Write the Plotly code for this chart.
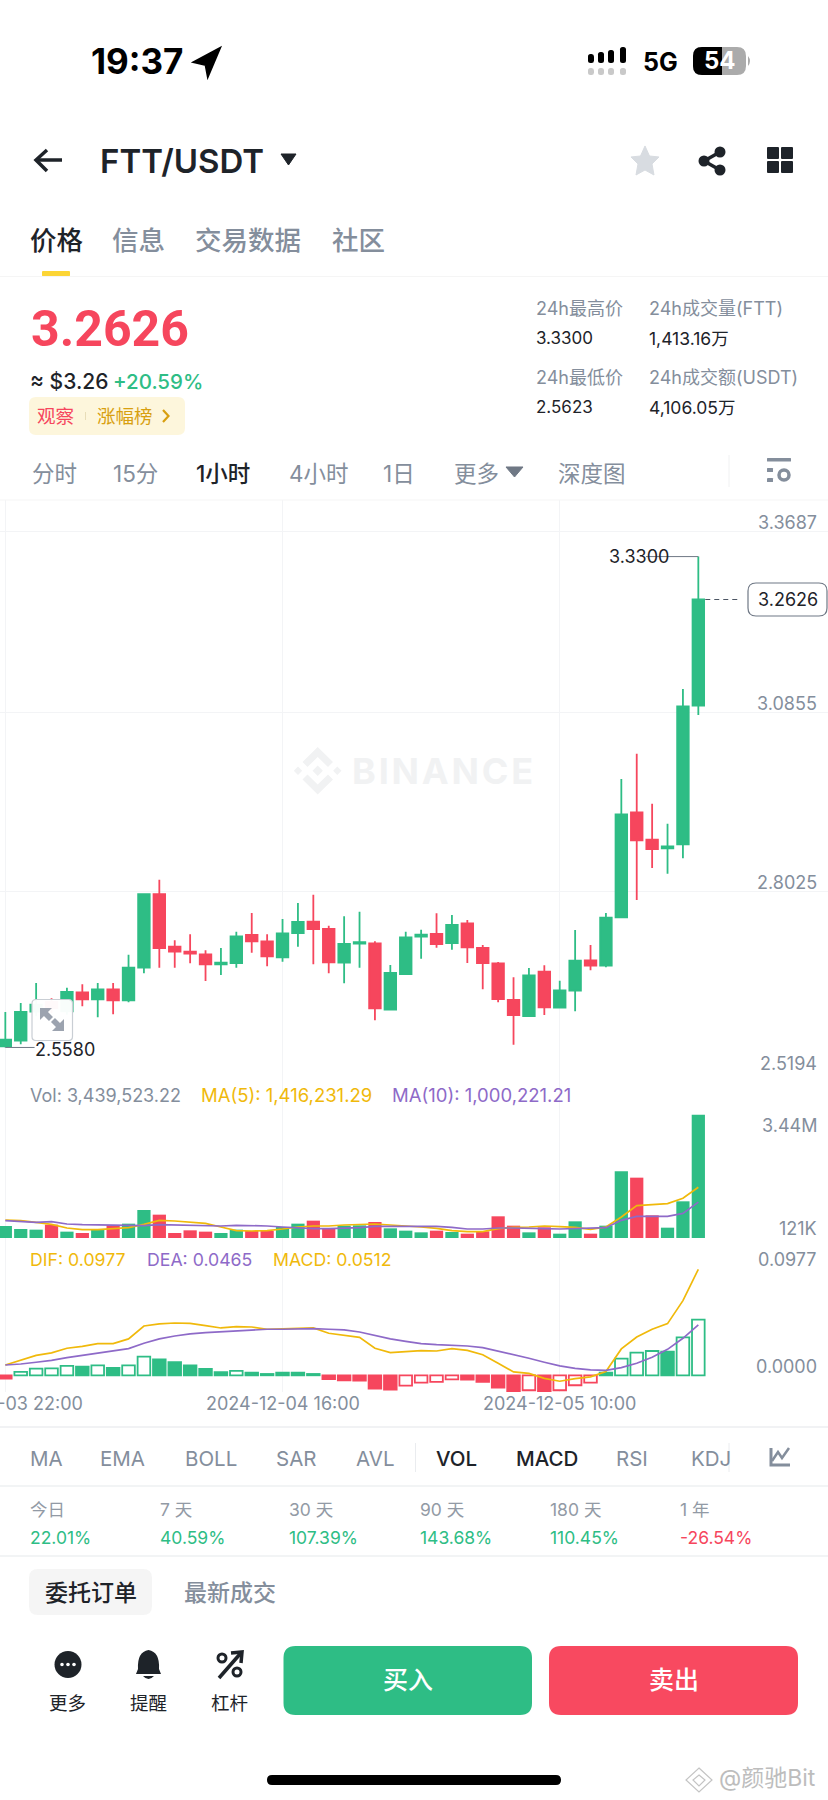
import re
import plotly.graph_objects as go

# ---------- data ----------
opens = [2.5598,2.5687,2.6143,2.6295,2.6148,2.6447,2.6337,2.6494,2.6321,2.6835,2.7993,2.7165,2.7086,2.7045,2.6887,2.6908,2.7349,2.7249,2.6997,2.7380,2.7558,2.7443,2.6913,2.7212,2.7218,2.6174,2.6735,2.7322,2.7364,2.7223,2.7532,2.7144,2.6903,2.6326,2.6075,2.6772,2.6206,2.6473,2.6950,2.6866,2.7626,2.9278,2.8848,2.8712,2.8775,3.0956]
closes = [2.5702,2.6138,2.6253,2.6200,2.6452,2.6337,2.6494,2.6321,2.6835,2.7993,2.7144,2.7086,2.7055,2.6887,2.6913,2.7328,2.7249,2.7013,2.7375,2.7553,2.7443,2.6919,2.7207,2.7238,2.6195,2.6751,2.7312,2.7354,2.7207,2.7506,2.7155,2.6908,2.6342,2.6090,2.6714,2.6211,2.6478,2.6945,2.6866,2.7621,2.9246,2.8838,2.8701,2.8743,3.0945,3.2626]
highs = [2.6138,2.6279,2.6594,2.6352,2.6520,2.6573,2.6594,2.6594,2.7039,2.7993,2.8219,2.7265,2.7359,2.7107,2.7144,2.7401,2.7695,2.7359,2.7600,2.7852,2.7983,2.7495,2.7642,2.7716,2.7249,2.6877,2.7401,2.7432,2.7689,2.7663,2.7585,2.7191,2.6924,2.6683,2.6830,2.6872,2.6630,2.7427,2.7191,2.7695,2.9802,3.0201,2.9414,2.9100,3.1218,3.3300]
lows = [2.5580,2.5629,2.6069,2.6122,2.6096,2.6227,2.6054,2.6101,2.6290,2.6746,2.6835,2.6835,2.6903,2.6625,2.6719,2.6835,2.7071,2.6856,2.6929,2.7165,2.6887,2.6746,2.6588,2.6835,2.6006,2.6169,2.6725,2.6976,2.7149,2.7118,2.6908,2.6494,2.6290,2.5623,2.6069,2.6090,2.6206,2.6148,2.6793,2.6840,2.7626,2.7899,2.8402,2.8313,2.8554,3.0809]
volumes = [.335,.251,.233,.372,.177,.140,.233,.353,.400,.781,.651,.140,.214,.177,.140,.233,.195,.195,.307,.400,.484,.251,.344,.353,.446,.270,.205,.158,.205,.167,.121,.186,.605,.344,.158,.298,.121,.465,.121,.344,1.860,1.683,.632,.288,1.023,3.44]
vol_ma5 = [.502,.484,.437,.381,.279,.233,.233,.260,.288,.381,.493,.474,.446,.409,.307,.205,.195,.205,.251,.307,.335,.335,.363,.372,.391,.363,.344,.307,.270,.205,.177,.177,.260,.298,.307,.335,.316,.298,.242,.307,.586,.902,.930,.958,1.107,1.416]
vol_ma10 = [.484,.465,.437,.456,.391,.372,.363,.353,.344,.344,.372,.363,.353,.335,.335,.353,.353,.335,.307,.279,.260,.260,.270,.288,.326,.335,.326,.326,.326,.298,.251,.251,.279,.279,.260,.260,.251,.270,.270,.288,.493,.605,.605,.605,.688,1.000]
macd_hist = [-.0031,.0031,.0061,.0064,.0086,.0080,.0092,.0068,.0092,.0172,.0147,.0120,.0092,.0058,.0028,.0040,.0025,.0012,.0025,.0025,.0012,-.0034,-.0046,-.0049,-.0123,-.0132,-.0095,-.0068,-.0061,-.0037,-.0040,-.0061,-.0114,-.0154,-.0138,-.0154,-.0138,-.0092,-.0068,.0025,.0154,.0209,.0224,.0218,.0350,.0512]
macd_hollow = [0,1,1,1,1,0,1,0,1,1,0,0,0,0,0,1,0,0,0,0,0,0,0,0,0,0,1,1,1,1,0,0,0,0,1,0,1,1,1,0,1,1,1,0,1,1]
dif = [.0095,.0138,.0184,.0206,.0249,.0267,.0292,.0292,.0335,.0454,.0473,.0482,.0479,.0457,.0436,.0448,.0445,.0424,.0427,.0436,.0436,.0387,.0368,.0350,.0249,.0209,.0218,.0227,.0224,.0246,.0230,.0190,.0111,.0031,.0018,-.0028,-.0055,-.0031,-.0015,.0034,.0243,.0353,.0424,.0476,.0688,.0977]
dea = [.0095,.0104,.0120,.0138,.0163,.0184,.0203,.0221,.0246,.0295,.0335,.0362,.0381,.0393,.0402,.0411,.0418,.0424,.0424,.0427,.0430,.0424,.0418,.0399,.0368,.0335,.0313,.0292,.0282,.0276,.0270,.0255,.0224,.0190,.0157,.0120,.0086,.0064,.0049,.0046,.0071,.0111,.0166,.0239,.0341,.0465]
price_ticks = [2.5194, 2.8025, 3.0855, 3.3687]
price_tick_labels = ["2.5194", "2.8025", "3.0855", "3.3687"]
time_ticks = [0, 18, 36]
time_labels = ["2024-12-03 22:00", "2024-12-04 16:00", "2024-12-05 10:00"]

GREEN, RED, GOLD, PURPLE = "#2EBD85", "#F6465D", "#F0B90B", "#8E6AC8"
DARK, GRAY, GRID = "#1E2329", "#848E9C", "#F3F4F6"
FONT = "Inter, Noto Sans CJK SC, sans-serif"
W, H = 828, 1800
xs = list(range(len(closes)))
bar_colors = [GREEN if c >= o else RED for o, c in zip(opens, closes)]
hist_edge = [GREEN if v >= 0 else RED for v in macd_hist]
hist_fill = ["#FFFFFF" if h else e for h, e in zip(macd_hollow, hist_edge)]

fig = go.Figure()
fig.add_trace(go.Candlestick(x=xs, open=opens, high=highs, low=lows, close=closes,
    increasing=dict(line=dict(color=GREEN, width=1.8), fillcolor=GREEN),
    decreasing=dict(line=dict(color=RED, width=1.8), fillcolor=RED),
    whiskerwidth=0, xaxis="x", yaxis="y", hoverinfo="skip"))
fig.add_trace(go.Bar(x=xs, y=volumes, width=0.86, marker=dict(color=bar_colors, line_width=0), xaxis="x2", yaxis="y2", hoverinfo="skip"))
fig.add_trace(go.Scatter(x=xs, y=vol_ma5, mode="lines", line=dict(color=GOLD, width=1.7), xaxis="x2", yaxis="y2", hoverinfo="skip"))
fig.add_trace(go.Scatter(x=xs, y=vol_ma10, mode="lines", line=dict(color=PURPLE, width=1.7), xaxis="x2", yaxis="y2", hoverinfo="skip"))
fig.add_trace(go.Bar(x=xs, y=macd_hist, width=0.82, marker=dict(color=hist_fill, line=dict(color=hist_edge, width=1.8)), xaxis="x3", yaxis="y3", hoverinfo="skip"))
fig.add_trace(go.Scatter(x=xs, y=dif, mode="lines", line=dict(color=GOLD, width=1.7), xaxis="x3", yaxis="y3", hoverinfo="skip"))
fig.add_trace(go.Scatter(x=xs, y=dea, mode="lines", line=dict(color=PURPLE, width=1.7), xaxis="x3", yaxis="y3", hoverinfo="skip"))

def dom(top, bottom):
    return [1 - bottom / H, 1 - top / H]

xrange_ = [-0.346, 53.42]
xbase = dict(range=xrange_, tickvals=time_ticks, showgrid=True, gridcolor=GRID, gridwidth=1,
             zeroline=False, showline=False, fixedrange=True, domain=[0, 1])
ann, shp = [], []

def T(x, y, s, size=18, color=DARK, anchor="left", weight=400, family=FONT):
    if anchor == "left":
        x -= 1.5
    ann.append(dict(x=x / W, y=1 - y / H, xref="paper", yref="paper", text=s, showarrow=False,
                    xanchor=anchor, yanchor="middle", borderpad=0,
                    font=dict(family=family, size=size, color=color, weight=weight)))

def P(s, fill=None, line=None, width=0):
    toks = re.findall(r"[MLQCZ]|-?[\d.]+", s)
    out, i = [], 0
    for t in toks:
        if t in "MLQCZ":
            out.append(t)
        else:
            v = float(t)
            out.append(f"{v / W:.6f}" if i % 2 == 0 else f"{1 - v / H:.6f}")
            i += 1
    d = dict(type="path", xref="paper", yref="paper", path=" ".join(out),
             line=dict(width=width, color=line or "rgba(0,0,0,0)"))
    if fill:
        d["fillcolor"] = fill
    shp.append(d)

def RR(x0, y0, x1, y1, r, fill=None, line=None, width=0):
    P(f"M{x0+r} {y0} L{x1-r} {y0} Q{x1} {y0} {x1} {y0+r} L{x1} {y1-r} Q{x1} {y1} {x1-r} {y1} "
      f"L{x0+r} {y1} Q{x0} {y1} {x0} {y1-r} L{x0} {y0+r} Q{x0} {y0} {x0+r} {y0} Z", fill, line, width)

def C(cx, cy, r, fill=None, line=None, width=0):
    d = dict(type="circle", xref="paper", yref="paper", x0=(cx - r) / W, x1=(cx + r) / W,
             y0=1 - (cy + r) / H, y1=1 - (cy - r) / H,
             line=dict(width=width, color=line or "rgba(0,0,0,0)"))
    if fill:
        d["fillcolor"] = fill
    shp.append(d)

def HL(y, color="#EEF0F2", w=1, x0=0, x1=W):
    P(f"M{x0} {y} L{x1} {y}", None, color, w)

# ---------- status bar ----------
T(91, 61, "19:37", 35, "#000000", weight=700)
P("M219 49 L195 62 L206 64.5 L208 75 Z", "#000000", "#000000", 3)
for bx, top in zip([588, 598, 608, 620], [54, 52, 50, 47]):
    RR(bx, top, bx + 6, 63, 2.5, "#000000")
    RR(bx, 68, bx + 6, 75, 2.5, "#C9C9C9")
T(643, 62, "5G", 25, "#000000", weight=700)
RR(693, 47, 746, 75, 9, "#ABABAB")
P("M702 47 L722 47 L722 75 L702 75 Q693 75 693 66 L693 56 Q693 47 702 47 Z", "#000000")
P("M748 56 Q752 61 748 66 Z", "#ABABAB")
T(720, 61, "54", 24, "#FFFFFF", "center", 700)

# ---------- header ----------
P("M62 160 L37 160", None, DARK, 3.5)
P("M47 150 L36 160 L47 171", None, DARK, 3.5)
T(100, 161, "FTT/USDT", 33, DARK, weight=600)
P("M281 154 L296 154 L288.5 165 Z", DARK, DARK, 1)
P("M645 146 L649.5 156 L659 157 L652 164 L654 175 L645 170 L636 175 L638 164 L631 157 L640.5 156 Z", "#D8DCE1", "#D8DCE1", 1)
P("M704 161 L720 152 M704 161 L720 170", None, DARK, 3.5)
for cx, cy in [(704, 161), (720, 152), (720, 170)]:
    C(cx, cy, 5.5, DARK)
for x0, y0 in [(767, 147), (781, 147), (767, 161), (781, 161)]:
    RR(x0, y0, x0 + 12, y0 + 12, 1, DARK)
for x, s, col in [(30, "价格", DARK), (112, "信息", GRAY), (195, "交易数据", GRAY), (332, "社区", GRAY)]:
    T(x, 240, s, 26.5, col, weight=500)
RR(42, 271, 70, 276, 0.5, "#FCD535")
HL(276.5, "#F5F5F5")

# ---------- price block ----------
T(31, 329, "3.2626", 50, RED, weight=700, family="Roboto, sans-serif")
T(30, 381, "≈ $3.26", 21, DARK, weight=500)
T(113, 381, "+20.59%", 20.5, GREEN, weight=500)
RR(29, 397, 185, 435, 7, "#FDF6DC")
T(37, 416, "观察", 18.5, RED)
P("M85.5 412 L85.5 420", None, "#E8DDB8", 1)
T(97, 416, "涨幅榜", 18.5, "#D89F0F")
P("M163 410 L168.5 416 L163 422", None, "#D89F0F", 2.2)
for x, y, s, col, fs in [(536, 308, "24h最高价", GRAY, 18), (649, 308, "24h成交量(FTT)", GRAY, 18),
                         (536, 338, "3.3300", DARK, 17), (649, 338, "1,413.16万", DARK, 17.5),
                         (536, 377, "24h最低价", GRAY, 18), (649, 377, "24h成交额(USDT)", GRAY, 18),
                         (536, 407, "2.5623", DARK, 17), (649, 407, "4,106.05万", DARK, 17.5)]:
    T(x, y, s, fs, col)
for x, s, col, wt in [(32, "分时", GRAY, 400), (113, "15分", GRAY, 400), (196, "1小时", DARK, 500), (289, "4小时", GRAY, 400),
                      (383, "1日", GRAY, 400), (454, "更多", GRAY, 400), (558, "深度图", GRAY, 400)]:
    T(x, 473, s, 22.5, col, weight=wt)
P("M506 467 L523 467 L514.5 477 Z", "#6F7885", "#6F7885", 1)
P("M729 455 L729 487", None, "#F0F1F2", 1)
RR(767, 458, 791, 461.5, 0.5, GRAY)
RR(767, 468, 773, 472, 0.5, GRAY)
RR(767, 478, 773, 482, 0.5, GRAY)
C(784, 475, 5, None, GRAY, 3.5)
HL(500, "#F5F5F5")

# ---------- watermark ----------
wm = "#F1F2F3"
P("M317.7 747 L333 762 L328 767 L317.7 757 L307.5 767 L302.5 762 Z", wm)
P("M317.7 794.4 L333 779.4 L328 774.4 L317.7 784.4 L307.5 774.4 L302.5 779.4 Z", wm)
for cx, r in [(298, 4.2), (317.7, 5.2), (337.3, 4.2)]:
    P(f"M{cx} {770.7-r} L{cx+r} 770.7 L{cx} {770.7+r} L{cx-r} 770.7 Z", wm)
T(352, 770.5, "B I N A N C E".replace(" ", "\u200a"), 36, wm, weight=700)

# ---------- chart overlays ----------
shp.append(dict(type="line", xref="x", yref="y", x0=41.6, x1=45, y0=highs[-1], y1=highs[-1], line=dict(color="#6F7885", width=1)))
shp.append(dict(type="line", xref="x", yref="y", x0=45.45, x1=47.7, y0=closes[-1], y1=closes[-1], line=dict(color="#4B5563", width=1.1, dash="5px,4px")))
shp.append(dict(type="line", xref="x", yref="y", x0=0, x1=1.9, y0=lows[0], y1=lows[0], line=dict(color="#6F7885", width=1)))
T(609, 557, "3.3300", 18, DARK)
T(35, 1049, "2.5580", 18, DARK)
RR(748, 583, 827, 616, 8, "#FFFFFF", "#6F7885", 1.2)
T(787.5, 600, "3.2626", 18, DARK, "center")
RR(32, 999.5, 72.5, 1040.5, 4, "rgba(255,255,255,0.97)", "#C9CED4", 1.2)
P("M40 1008 L52 1008 L48 1012 L53 1017 L49 1021 L44 1016 L40 1020 Z", "#9CA3AF")
P("M64 1031 L52 1031 L56 1027 L51 1022 L55 1018 L60 1023 L64 1019 Z", "#9CA3AF")

def axis_label(yref, y, s, shift=0, anchor="middle"):
    ann.append(dict(x=817.5 / W, xref="paper", y=y, yref=yref, text=s, showarrow=False, xanchor="right",
                    yanchor=anchor, yshift=shift, borderpad=0, font=dict(family=FONT, size=18, color=GRAY)))

for v, s in zip(price_ticks, price_tick_labels):
    axis_label("y", v, s, 9)
axis_label("y2", 3.44, "3.44M", -11)
axis_label("y2", 0, "121K", 10)
axis_label("y3", 0.0977, "0.0977", 10)
axis_label("y3", 0, "0.0000", 9)

T(30, 1095, "Vol: 3,439,523.22", 18, GRAY)
T(201, 1095, "MA(5): 1,416,231.29", 18.5, GOLD)
T(392, 1095, "MA(10): 1,000,221.21", 18.5, PURPLE)
T(30, 1259, "DIF: 0.0977", 17.7, GOLD)
T(147, 1259, "DEA: 0.0465", 17.7, PURPLE)
T(273, 1259, "MACD: 0.0512", 17.7, GOLD)
# the first time label runs off the left edge of the screen, as in the reference
ann.append(dict(x=84 / W, y=1 - 1403 / H, xref="paper", yref="paper", text=time_labels[0], showarrow=False,
                xanchor="right", yanchor="middle", borderpad=0, font=dict(family=FONT, size=18, color=GRAY)))
for tv, tl in zip(time_ticks[1:], time_labels[1:]):
    ann.append(dict(x=tv, xref="x3", y=1 - 1403 / H, yref="paper", text=tl, showarrow=False,
                    xanchor="center", yanchor="middle", borderpad=0, font=dict(family=FONT, size=18, color=GRAY)))

# ---------- lower panels ----------
HL(1427, "#EDEEF0", 1.5)
for x, s in [(30, "MA"), (100, "EMA"), (185, "BOLL"), (276, "SAR"), (356, "AVL")]:
    T(x, 1458, s, 20.5, GRAY)
P("M415.5 1443 L415.5 1472", None, "#EAECEF", 1)
T(436, 1458, "VOL", 20.5, DARK, weight=500)
T(516, 1458, "MACD", 20.5, DARK, weight=500)
T(616, 1458, "RSI", 20.5, GRAY)
T(691, 1458, "KDJ", 20.5, GRAY)
P("M729 1443 L729 1472", None, "#EAECEF", 1)
P("M771 1448 L771 1465 L790 1465", None, GRAY, 3)
P("M772 1461 L778 1452 L782 1458 L789 1448", None, GRAY, 2.5)
HL(1486, "#EEF0F2", 1.5)
for x, s, v, col in [(30, "今日", "22.01%", GREEN), (160, "7 天", "40.59%", GREEN), (289, "30 天", "107.39%", GREEN),
                     (420, "90 天", "143.68%", GREEN), (550, "180 天", "110.45%", GREEN), (680, "1 年", "-26.54%", RED)]:
    T(x, 1509, s, 17.5, "#929AA5")
    T(x, 1537, v, 17.5, col)
HL(1556, "#EEF0F2", 1.5)
RR(29, 1569, 152, 1615, 9, "#F5F5F5")
T(45, 1593, "委托订单", 23, DARK, weight=500)
T(184, 1593, "最新成交", 23, GRAY, weight=500)
C(68, 1664.5, 13.5, DARK)
for dx in (-6, 0, 6):
    C(68 + dx, 1664.5, 1.8, "#FFFFFF")
P("M148.5 1650 Q160 1652 159 1669 L161 1674 L136 1674 L138 1669 Q137 1652 148.5 1650 Z", DARK)
P("M143 1676 L154 1676 Q148.5 1682 143 1676 Z", DARK)
P("M219 1678 L240 1654", None, DARK, 3.5)
P("M231 1653 L242 1652 L241 1663", None, DARK, 3.5)
C(222, 1658, 4, None, DARK, 3)
C(237, 1672, 4, None, DARK, 3)
for x, s in [(67.5, "更多"), (148, "提醒"), (229.5, "杠杆")]:
    T(x, 1703, s, 18.5, DARK, "center")
RR(283.5, 1646, 532, 1715, 12, GREEN)
RR(549, 1646, 798, 1715, 12, "#F84960")
T(408, 1680, "买入", 25, "#FFFFFF", "center", 500)
T(673.5, 1680, "卖出", 25, "#FFFFFF", "center", 500)
RR(267, 1775, 561, 1785, 5, "#000000")
P("M699 1768 L712 1780 L699 1792 L686 1780 Z M699 1775 L705 1780 L699 1786 L693 1780 Z", None, "#C4C4C4", 1.2)
T(719, 1778, "@颜驰Bit", 23, "#BDBDBD")

fig.update_layout(
    width=W, height=H, margin=dict(l=0, r=0, t=0, b=0), autosize=False,
    paper_bgcolor="#FFFFFF", plot_bgcolor="#FFFFFF", showlegend=False, barmode="overlay",
    boxgap=0.25, boxgroupgap=0, dragmode=False, hovermode=False,
    xaxis=dict(xbase, anchor="y", showticklabels=False, rangeslider=dict(visible=False)),
    xaxis2=dict(xbase, anchor="y2", showticklabels=False),
    xaxis3=dict(xbase, anchor="y3", showticklabels=False),
    yaxis=dict(domain=dom(500, 1072), range=[2.5194, 3.4190], tickvals=price_ticks, showticklabels=False,
               gridcolor=GRID, zeroline=False, fixedrange=True),
    yaxis2=dict(domain=dom(1072, 1238), range=[0, 4.63], tickvals=[0, 4.63], showticklabels=False,
                gridcolor="#EEF0F2", gridwidth=1.5, zeroline=False, fixedrange=True),
    yaxis3=dict(domain=dom(1238, 1392), range=[-0.0154, 0.1265], tickvals=[-0.0154], showticklabels=False,
                gridcolor="#EEF0F2", gridwidth=1.5, zeroline=False, fixedrange=True),
    annotations=ann, shapes=shp,
)
fig.write_html("out.html", config={"displayModeBar": False, "staticPlot": True},
               post_script="document.body.style.margin='0';")
